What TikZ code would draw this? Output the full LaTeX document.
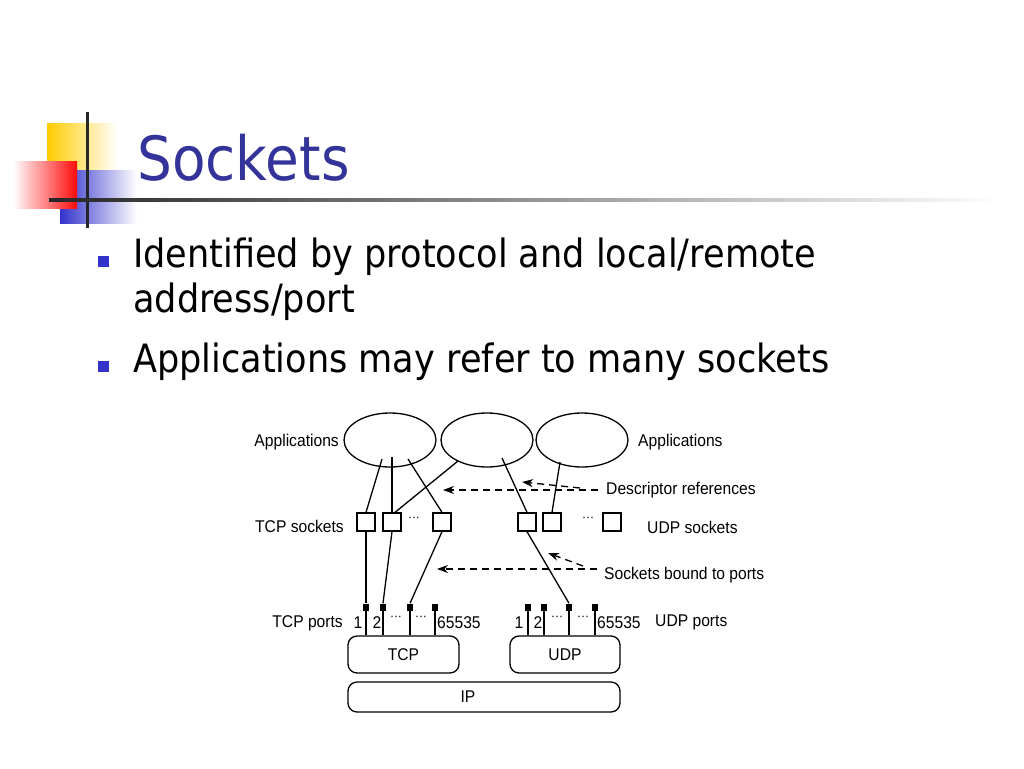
\documentclass[tikz,border=0pt]{standalone}
\usepackage{fontspec}
\usepackage{tikz}
\usetikzlibrary{shapes.geometric,arrows.meta,calc}
\newfontfamily\slidefont{DejaVu Sans}[FakeStretch=0.9]
\newfontfamily\figfont{Liberation Sans}[FakeStretch=0.92]
\definecolor{titleblue}{RGB}{51,51,153}
\definecolor{bulletblue}{RGB}{51,51,204}
\definecolor{decoyellow}{RGB}{255,204,0}
\definecolor{decored}{RGB}{255,10,10}
\definecolor{decoblue}{RGB}{51,51,204}
\tikzstyle{app} = [ellipse, draw=black, line width=1.3pt, minimum width=92pt, minimum height=54pt, inner sep=0pt]
\tikzstyle{sock} = [rectangle, draw=black, line width=1.3pt, minimum size=18pt, inner sep=0pt]
\tikzstyle{proto} = [rectangle, rounded corners=9pt, draw=black, line width=1.3pt, minimum height=37pt, inner sep=0pt, font=\figfont\fontsize{17}{20}\selectfont]
\tikzstyle{port} = [rectangle, fill=black, minimum width=6pt, minimum height=7pt, inner sep=0pt]
\tikzstyle{lbl} = [inner sep=0pt, font=\figfont\fontsize{17}{20}\selectfont]
\tikzstyle{dots} = [inner sep=0pt, font=\figfont\fontsize{13}{15}\selectfont]
\tikzstyle{bullettext} = [anchor=base west, inner sep=0pt, font=\slidefont\fontsize{39}{47}\selectfont]
\tikzstyle{wire} = [line width=1.3pt]
\tikzstyle{arrow} = [line width=1.3pt, dash pattern=on 7pt off 5pt, -{Stealth[length=11pt,width=8pt]}]

\begin{document}
\begin{tikzpicture}[x=1pt, y=-1pt]
\useasboundingbox (0,0) rectangle (1024,768);
\fill[white] (0,0) rectangle (1024,768);

% slide decoration
\shade[left color=decoyellow, middle color=decoyellow, right color=white] (47,123) rectangle (117,200);
\shade[left color=decoblue, middle color=decoblue, right color=white] (60,170) rectangle (137,223);
\shade[left color=white, right color=decored] (13,161) rectangle (77,208);
\draw[line width=3pt, black!85] (87,112) -- (87,228);
\shade[left color=black!85, right color=white] (49,198.5) rectangle (1000,201.5);

\node (Title) [anchor=base west, inner sep=0pt, text=titleblue, font=\slidefont\fontsize{61}{70}\selectfont] at (137,180) {Sockets};

\fill[bulletblue] (98,256) rectangle (109,267);
\fill[bulletblue] (98,361) rectangle (109,372);
\node (Bullet1) [bullettext] at (133,267) {Identified by protocol and local/remote};
\node (Bullet1b) [bullettext] at (133,312) {address/port};
\node (Bullet2) [bullettext] at (133,372) {Applications may refer to many sockets};

% applications
\node (App1) [app] at (390,440) {};
\node (App2) [app] at (487,440) {};
\node (App3) [app] at (582,440) {};
\node (AppL) [lbl, anchor=east] at (339,442) {Applications};
\node (AppR) [lbl, anchor=west] at (638,442) {Applications};

% sockets
\node (TS1) [sock] at (366,522) {};
\node (TS2) [sock] at (392,522) {};
\node (TS3) [sock] at (442,522) {};
\node (US1) [sock] at (527,522) {};
\node (US2) [sock] at (552,522) {};
\node (US3) [sock] at (612,522) {};
\node (TSdots) [dots] at (414,519) {···};
\node (USdots) [dots] at (588,519) {···};
\node (TSlbl) [lbl, anchor=east] at (344,526) {TCP sockets};
\node (USlbl) [lbl, anchor=west] at (647,527) {UDP sockets};

% protocols
\node (TCP) [proto, minimum width=111pt] at (403.5,654.5) {TCP};
\node (UDP) [proto, minimum width=110pt] at (565,654.5) {UDP};
\node (IP) [proto, minimum width=272pt, minimum height=30pt, label={[lbl, xshift=-16pt]center:IP}] at (484,697) {};

% ports
\foreach \nm/\px in {TP1/366, TP2/383, TP3/410, TP4/435}
  \node (\nm) [port] at (\px,607) {};
\foreach \nm/\px in {UP1/528, UP2/544, UP3/569, UP4/595}
  \node (\nm) [port] at (\px,607) {};
\foreach \nm in {TP1, TP2, TP3, TP4}
  \draw [wire] (\nm.south) -- (\nm |- TCP.north);
\foreach \nm in {UP1, UP2, UP3, UP4}
  \draw [wire] (\nm.south) -- (\nm |- UDP.north);

\node (TPn1) [lbl] at (358,623) {1};
\node (TPn2) [lbl] at (377,623) {2};
\node (TPd1) [dots] at (396,618) {···};
\node (TPd2) [dots] at (421,618) {···};
\node (TPmax) [lbl, anchor=west] at (437,623) {65535};
\node (UPn1) [lbl] at (519,623) {1};
\node (UPn2) [lbl] at (538,623) {2};
\node (UPd1) [dots] at (557,618) {···};
\node (UPd2) [dots] at (583,618) {···};
\node (UPmax) [lbl, anchor=west] at (597,623) {65535};
\node (TPlbl) [lbl, anchor=east] at (343,623) {TCP ports};
\node (UPlbl) [lbl, anchor=west] at (655,622) {UDP ports};

% applications to sockets
\draw [wire] ($(App1)+(-8,19)$) -- (TS1.north);
\draw [wire] ($(App1)+(2,17)$) -- (TS2.north);
\draw [wire] ($(App1)+(18,19)$) -- (TS3.north);
\draw [wire] ($(App2)+(-29,21)$) -- ([xshift=3pt]TS2.north);
\draw [wire] ($(App2)+(15,18)$) -- (US1.north);
\draw [wire] ($(App3)+(-22,22)$) -- (US2.north);

% sockets to ports
\draw [wire] (TS1.south) -- (TP1.north);
\draw [wire] (TS2.south) -- (TP2.north);
\draw [wire] (TS3.south) -- (TP3.north);
\draw [wire] (US1.south) -- (UP3.north);

% notes
\node (DR) [lbl, anchor=west] at (606,490) {Descriptor references};
\coordinate (DRend) at (443,490);
\coordinate (DRfork) at (580,488);
\coordinate (DRend2) at (522,482);
\draw [arrow] ([xshift=-8pt]DR.west) -- (DRend);
\draw [arrow] (DRfork) -- (DRend2);

\node (SB) [lbl, anchor=west] at (604,575) {Sockets bound to ports};
\coordinate (SBstart) at (597,569);
\coordinate (SBend) at (437,569);
\coordinate (SBfork) at (583,566);
\coordinate (SBend2) at (548,553);
\draw [arrow] (SBstart) -- (SBend);
\draw [arrow] (SBfork) -- (SBend2);
\end{tikzpicture}
\end{document}
